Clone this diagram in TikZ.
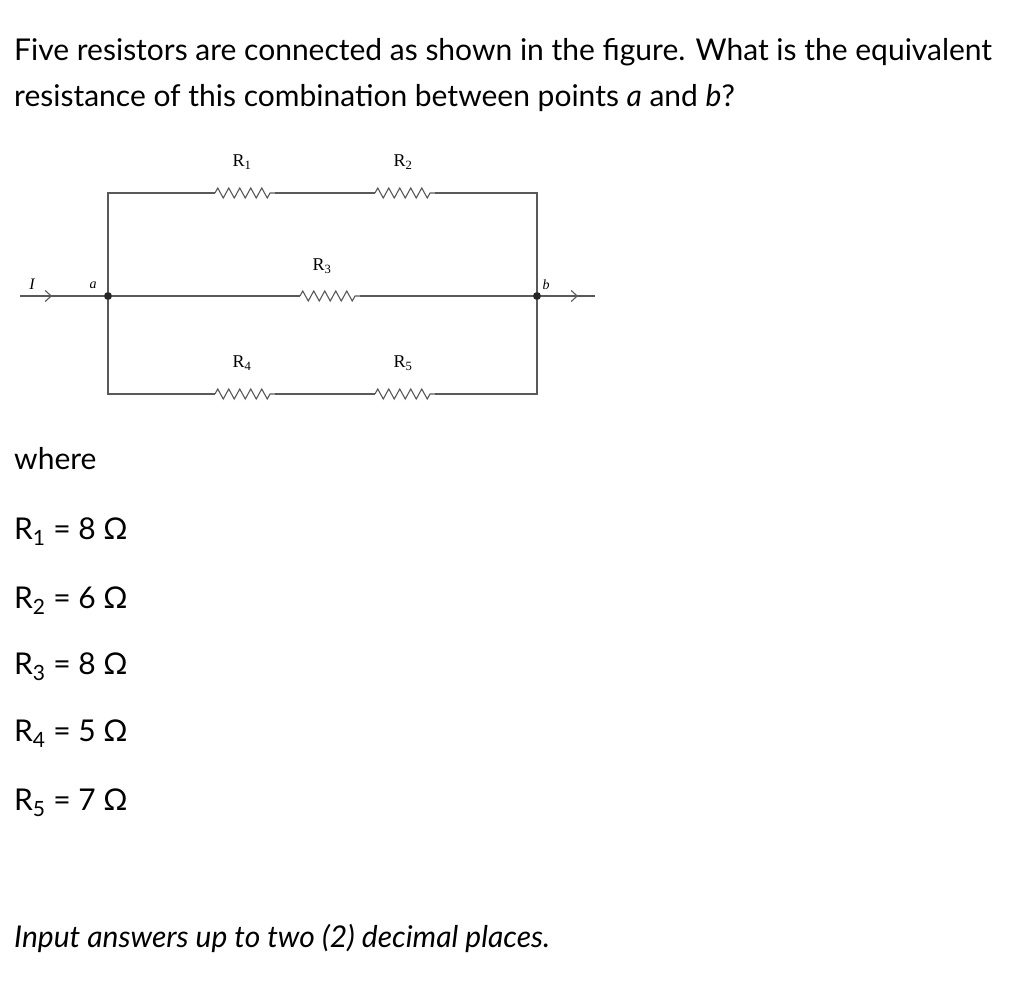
\documentclass[tikz,border=0pt]{standalone}
\usepackage{fontspec}
\setmainfont{Lato}
\newfontfamily\serifx{Liberation Serif}
\usetikzlibrary{decorations.pathmorphing,arrows.meta}
\begin{document}
\begin{tikzpicture}[x=1pt,y=-1pt,
 wire/.style={draw=black!65,line width=1.1pt},
 res/.style={wire,decorate,decoration={zigzag,segment length=11,amplitude=5}},
 rl/.style={font=\serifx\fontsize{18}{18}\selectfont},
 txt/.style={anchor=base west,inner sep=0,font=\fontsize{30}{30}\selectfont},
 dot/.style={circle,fill=black!85,inner sep=0,minimum size=8pt}]
\useasboundingbox (0,0) rectangle (1024,984);
\node[txt] (t1) at (14,61) {Five resistors are connected as shown in the figure. What is the equivalent};
\node[txt] (t2) at (14,107) {resistance of this combination between points \textit{a} and \textit{b}?};
% circuit
\coordinate (tl) at (108,193); \coordinate (tr) at (537,193);
\coordinate (bl) at (108,394); \coordinate (br) at (537,394);
\node[dot] (a) at (108,296) {}; \node[dot] (b) at (537,296) {};
\coordinate (in) at (20,296); \coordinate (out) at (595,296);
\coordinate (r1a) at (215,193); \coordinate (r1b) at (275,193);
\coordinate (r2a) at (375,193); \coordinate (r2b) at (435,193);
\coordinate (r3a) at (300,296); \coordinate (r3b) at (360,296);
\coordinate (r4a) at (215,394); \coordinate (r4b) at (275,394);
\coordinate (r5a) at (375,394); \coordinate (r5b) at (435,394);
\draw[wire] (a) -- (tl) -- (r1a); \draw[res] (r1a) -- (r1b);
\draw[wire] (r1b) -- (r2a); \draw[res] (r2a) -- (r2b);
\draw[wire] (r2b) -- (tr) -- (b);
\draw[wire] (a) -- (r3a); \draw[res] (r3a) -- (r3b); \draw[wire] (r3b) -- (b);
\draw[wire] (a) -- (bl) -- (r4a); \draw[res] (r4a) -- (r4b);
\draw[wire] (r4b) -- (r5a); \draw[res] (r5a) -- (r5b);
\draw[wire] (r5b) -- (br) -- (b);
\draw[wire] (in) -- (a); \draw[wire] (b) -- (out);
\draw[wire,-{Straight Barb[length=6pt,width=11pt]}] (in) -- (52,296);
\draw[wire,-{Straight Barb[length=6pt,width=11pt]}] (b) -- (578,296);
\node[rl] (l1) at (242,162) {R\textsubscript{1}};
\node[rl] (l2) at (403,162) {R\textsubscript{2}};
\node[rl] (l3) at (322,266) {R\textsubscript{3}};
\node[rl] (l4) at (242,363) {R\textsubscript{4}};
\node[rl] (l5) at (403,363) {R\textsubscript{5}};
\node[rl,font=\serifx\itshape\fontsize{16}{16}\selectfont] (li) at (32,284) {I};
\node[rl,font=\serifx\itshape\fontsize{14}{14}\selectfont] (la) at (93,285) {a};
\node[rl,font=\serifx\itshape\fontsize{14}{14}\selectfont] (lb) at (546,285) {b};
% values
\node[txt] (w) at (14,469) {where};
\node[txt] (v1) at (14,539) {R\textsubscript{1} = 8 Ω};
\node[txt] (v2) at (14,608) {R\textsubscript{2} = 6 Ω};
\node[txt] (v3) at (14,674) {R\textsubscript{3} = 8 Ω};
\node[txt] (v4) at (14,741) {R\textsubscript{4} = 5 Ω};
\node[txt] (v5) at (14,810) {R\textsubscript{5} = 7 Ω};
\node[txt] (f) at (14,947) {\itshape Input answers up to two (2) decimal places.};
\end{tikzpicture}
\end{document}
